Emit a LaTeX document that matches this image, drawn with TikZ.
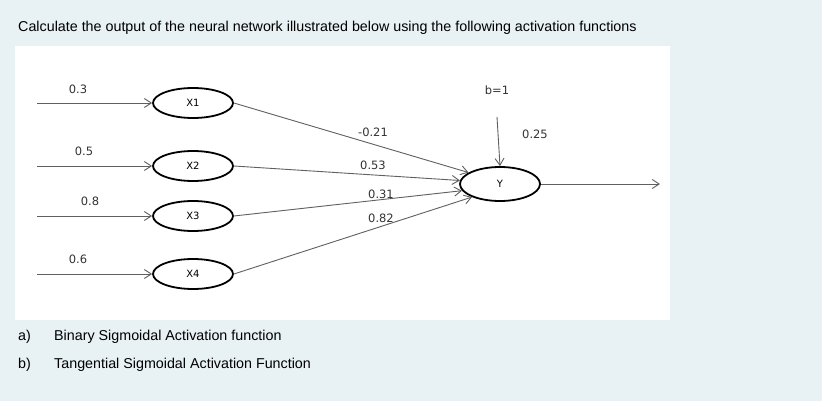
\documentclass[tikz,border=0pt]{standalone}
\usepackage{fontspec}
\setmainfont{Liberation Sans}
\newfontfamily\vfont{DejaVu Sans}
\usetikzlibrary{arrows.meta,shapes.geometric}
\definecolor{bgc}{HTML}{E8F1F4}
\definecolor{ln}{HTML}{606060}
\begin{document}
\begin{tikzpicture}[x=1pt,y=-1pt,
  neuron/.style={draw=black,line width=1.8pt,ellipse,minimum width=80pt,minimum height=30pt,inner sep=0pt,font=\vfont\fontsize{10}{11}\selectfont},
  conn/.style={draw=ln,line width=0.9pt,-{Straight Barb[length=7pt,width=9pt]}},
  lbl/.style={font=\vfont\fontsize{11.5}{13}\selectfont,text=black!80},
  txt/.style={font=\fontsize{14.3}{16}\selectfont,anchor=west,inner sep=0pt}]
\useasboundingbox (0,0) rectangle (822,401);
\fill[bgc] (0,0) rectangle (822,401);
\fill[white] (15,46) rectangle (670,320);
\node[txt] (title) at (18,28) {Calculate the output of the neural network illustrated below using the following activation functions};
\node[neuron] (x1) at (193,103) {X1};
\node[neuron] (x2) at (193,166) {X2};
\node[neuron] (x3) at (193,216) {X3};
\node[neuron] (x4) at (193,274) {X4};
\node[neuron,minimum height=34pt] (y) at (500,184) {Y};
\coordinate (i1) at (37,103);
\coordinate (i2) at (37,166);
\coordinate (i3) at (37,216);
\coordinate (i4) at (37,274);
\coordinate (b) at (497,117);
\coordinate (o) at (660,184);
\draw[conn] (i1) -- (x1.west);
\draw[conn] (i2) -- (x2.west);
\draw[conn] (i3) -- (x3.west);
\draw[conn] (i4) -- (x4.west);
\draw[conn] (x1.east) -- (y.160);
\draw[conn] (x2.east) -- (y.175);
\draw[conn] (x3.east) -- (y.190);
\draw[conn] (x4.east) -- (y.205);
\draw[conn] (b) -- (y.north);
\draw[conn] (y.east) -- (o);
\node[lbl] at (78,89) {0.3};
\node[lbl] at (84,151) {0.5};
\node[lbl] at (90,201) {0.8};
\node[lbl] at (78,259) {0.6};
\node[lbl] at (373,132) {-0.21};
\node[lbl] at (373,165) {0.53};
\node[lbl] at (381,194) {0.31};
\node[lbl] at (381,218) {0.82};
\node[lbl] at (497,90) {b=1};
\node[lbl] at (535,134) {0.25};
\node[txt] (a) at (18,337) {a)};
\node[txt] (bb) at (18,365) {b)};
\node[txt] (at) at (54,337) {Binary Sigmoidal Activation function};
\node[txt] (bt) at (54,365) {Tangential Sigmoidal Activation Function};
\end{tikzpicture}
\end{document}
